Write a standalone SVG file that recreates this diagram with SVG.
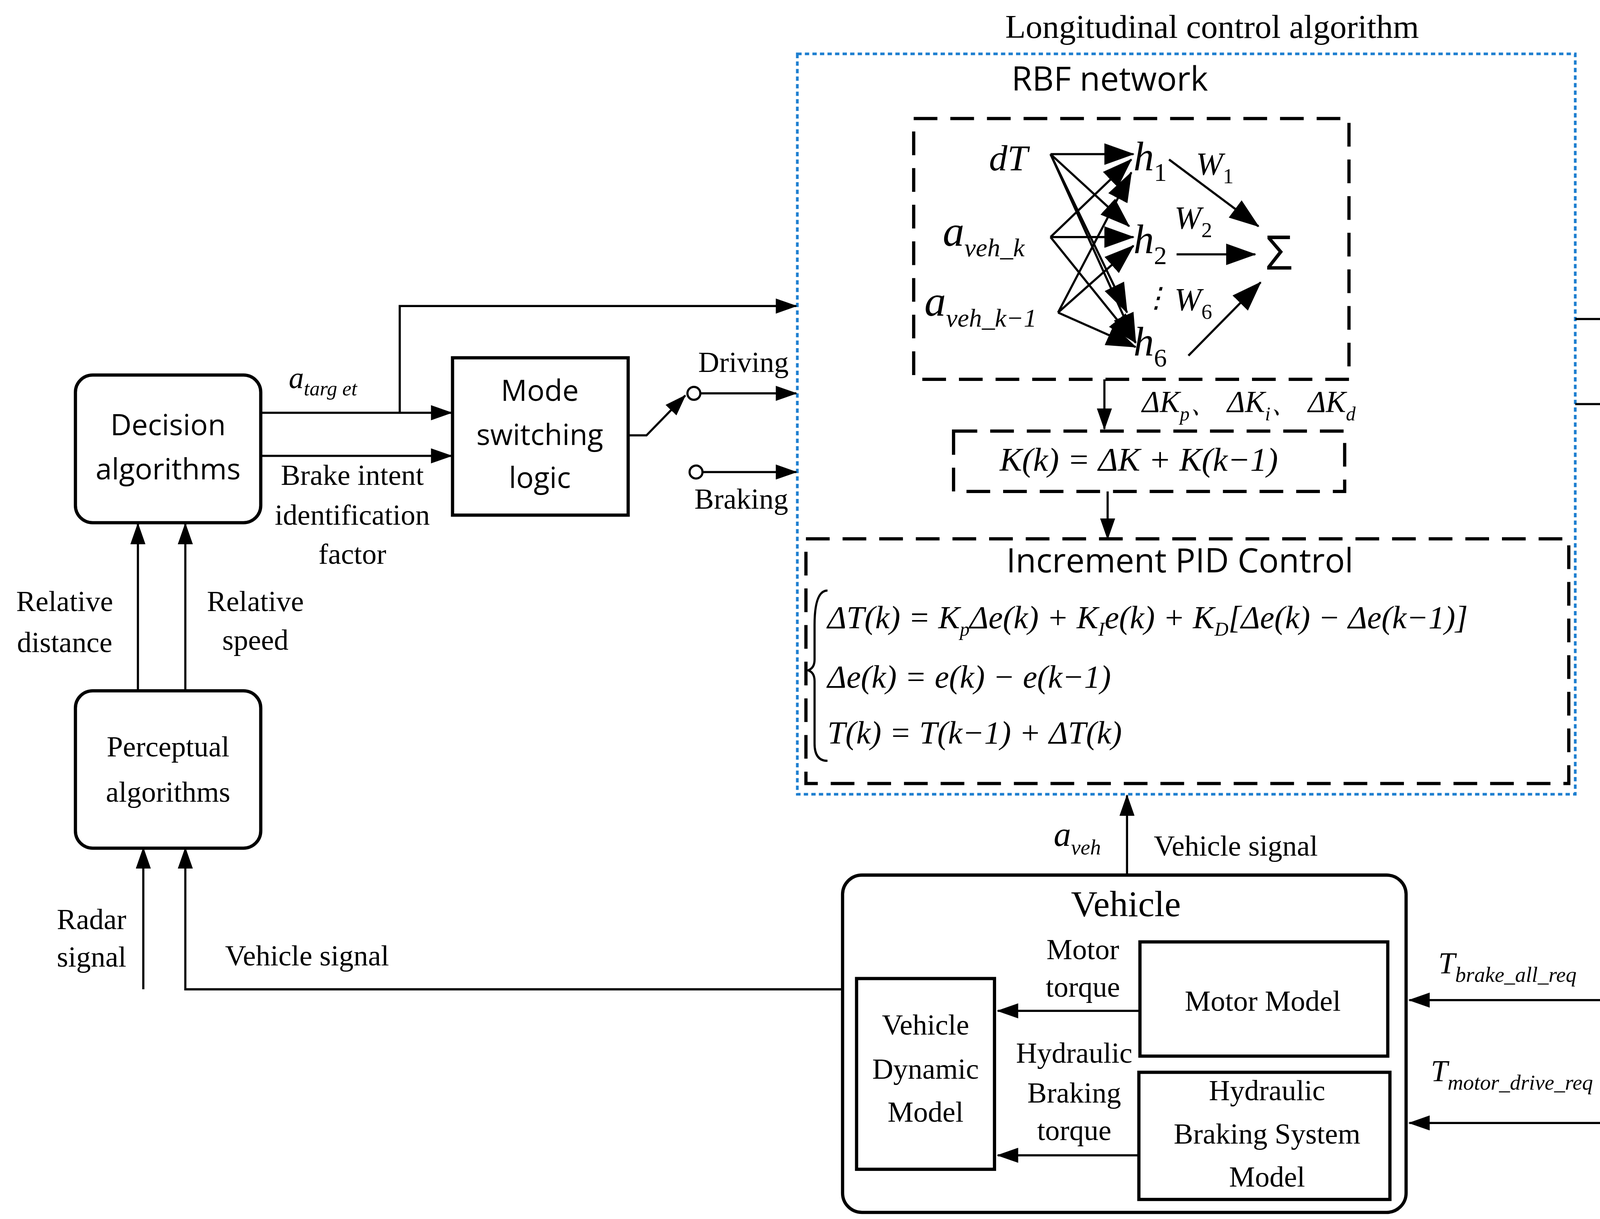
<svg xmlns="http://www.w3.org/2000/svg" width="4303" height="3120" viewBox="0 0 4303 3120">
<defs>
<marker id="ar" markerUnits="userSpaceOnUse" markerWidth="20" markerHeight="14" refX="19" refY="7" orient="auto"><path d="M0,0 L20,7 L0,14 Z" fill="#000"/></marker>
<marker id="ar2" markerUnits="userSpaceOnUse" markerWidth="28" markerHeight="20" refX="27" refY="10" orient="auto"><path d="M0,0 L28,10 L0,20 Z" fill="#000"/></marker>
<style>
.ln{stroke:#000;stroke-width:2;fill:none}
.bx{stroke:#000;stroke-width:3;fill:#fff}
.ds{stroke:#000;stroke-width:3;fill:none;stroke-dasharray:22 12}
.sa{font-family:"Open Sans","Liberation Sans",sans-serif;font-size:27px;text-anchor:middle}
.se{font-family:"Liberation Serif",serif;font-size:27px;text-anchor:middle}
.it{font-family:"Liberation Serif",serif;font-style:italic}
</style>
</defs>
<rect width="4303" height="3120" fill="#fff"/>
<g transform="scale(2.7583)">
<text class="se" x="1125" y="35" style="font-size:31px">Longitudinal control algorithm</text>
<rect x="740" y="50" width="722" height="687" fill="none" stroke="#1e7fd0" stroke-width="2.5" stroke-dasharray="4 3"/>
<g id="rbf">
<text class="sa" x="1030" y="84" style="font-size:31px">RBF network</text>
<rect x="848" y="110" width="404" height="242" class="ds"/>
<text class="it" x="918" y="158" font-size="34">dT</text>
<text class="it" x="875" y="228" font-size="40">a<tspan font-size="24" dy="10">veh_k</tspan></text>
<text class="it" x="858" y="293" font-size="40">a<tspan font-size="24" dy="10">veh_k−1</tspan></text>
<text class="it" x="1052" y="158" font-size="38">h<tspan font-size="24" dy="10" font-style="normal">1</tspan></text>
<text class="it" x="1052" y="235" font-size="38">h<tspan font-size="24" dy="10" font-style="normal">2</tspan></text>
<text class="it" x="1060" y="285" font-size="26">⋮</text>
<text class="it" x="1052" y="330" font-size="38">h<tspan font-size="24" dy="10" font-style="normal">6</tspan></text>
<text class="it" x="1110" y="162" font-size="30">W<tspan font-size="20" dy="8" font-style="normal">1</tspan></text>
<text class="it" x="1090" y="212" font-size="30">W<tspan font-size="20" dy="8" font-style="normal">2</tspan></text>
<text class="it" x="1090" y="288" font-size="30">W<tspan font-size="20" dy="8" font-style="normal">6</tspan></text>
<text class="sa" x="1187" y="250" style="font-size:44px">Σ</text>
<g class="ln">
<line x1="975" y1="143" x2="1052" y2="143" marker-end="url(#ar2)"/>
<line x1="975" y1="143" x2="1048" y2="210" marker-end="url(#ar2)"/>
<line x1="975" y1="143" x2="1046" y2="290" marker-end="url(#ar2)"/>
<line x1="975" y1="143" x2="1054" y2="318" marker-end="url(#ar2)"/>
<line x1="975" y1="220" x2="1050" y2="148" marker-end="url(#ar2)"/>
<line x1="975" y1="220" x2="1052" y2="220" marker-end="url(#ar2)"/>
<line x1="975" y1="220" x2="1054" y2="318" marker-end="url(#ar2)"/>
<line x1="982" y1="290" x2="1050" y2="160" marker-end="url(#ar2)"/>
<line x1="982" y1="290" x2="1052" y2="228" marker-end="url(#ar2)"/>
<line x1="982" y1="290" x2="1054" y2="322" marker-end="url(#ar2)"/>
<line x1="1085" y1="148" x2="1168" y2="210" marker-end="url(#ar2)"/>
<line x1="1092" y1="236" x2="1165" y2="236" marker-end="url(#ar2)"/>
<line x1="1103" y1="330" x2="1170" y2="262" marker-end="url(#ar2)"/>
</g>
</g>
<g id="kbox">
<rect x="885" y="400" width="363" height="56" class="ds"/>
<text class="it" x="1057" y="437" font-size="31" text-anchor="middle">K(k) = ΔK + K(k−1)</text>
</g>
<text class="it" x="1060" y="382" font-size="28">ΔK<tspan font-size="18" dy="8">p</tspan><tspan dy="-8">、 ΔK</tspan><tspan font-size="18" dy="8">i</tspan><tspan dy="-8">、 ΔK</tspan><tspan font-size="18" dy="8">d</tspan></text>
<g id="pid">
<rect x="748" y="500" width="708" height="227" class="ds"/>
<text class="sa" x="1095" y="531" style="font-size:31px">Increment PID Control</text>
<path d="M768,548 Q756,548 756,580 L756,612 Q756,620 750,622 Q756,624 756,632 L756,690 Q756,706 768,706" class="ln"/>
<text class="it" x="768" y="583" font-size="30">ΔT(k) = K<tspan font-size="18" dy="7">p</tspan><tspan dy="-7">Δe(k) + K</tspan><tspan font-size="18" dy="7">I</tspan><tspan dy="-7">e(k) + K</tspan><tspan font-size="18" dy="7">D</tspan><tspan dy="-7">[Δe(k) − Δe(k−1)]</tspan></text>
<text class="it" x="768" y="638" font-size="30">Δe(k) = e(k) − e(k−1)</text>
<text class="it" x="768" y="690" font-size="30">T(k) = T(k−1) + ΔT(k)</text>
</g>
<g id="decision"><rect x="70" y="348" width="172" height="137" rx="16" class="bx"/>
<text class="sa" x="156" y="404">Decision</text><text class="sa" x="156" y="445">algorithms</text></g>
<g id="perceptual"><rect x="70" y="641" width="172" height="146" rx="16" class="bx"/>
<text class="se" x="156" y="702">Perceptual</text><text class="se" x="156" y="744">algorithms</text></g>
<g id="mode"><rect x="420" y="332" width="163" height="146" class="bx"/>
<text class="sa" x="501" y="372">Mode</text><text class="sa" x="501" y="413">switching</text><text class="sa" x="501" y="453">logic</text></g>
<g id="vehicle"><rect x="782" y="812" width="523" height="313" rx="18" class="bx"/>
<text class="se" x="1045" y="850" style="font-size:34px">Vehicle</text></g>
<g id="motor"><rect x="1058" y="874" width="230" height="106" class="bx"/>
<text class="se" x="1172" y="938">Motor Model</text></g>
<g id="hydraulic"><rect x="1057" y="995" width="233" height="118" class="bx"/>
<text class="se" x="1176" y="1021">Hydraulic</text><text class="se" x="1176" y="1061">Braking System</text><text class="se" x="1176" y="1101">Model</text></g>
<g id="vdm"><rect x="795" y="908" width="128" height="177" class="bx"/>
<text class="se" x="859" y="960">Vehicle</text><text class="se" x="859" y="1001">Dynamic</text><text class="se" x="859" y="1041">Model</text></g>
<g id="connectors" class="ln">
<line x1="1025" y1="352" x2="1025" y2="398" marker-end="url(#ar)"/>
<line x1="1028" y1="456" x2="1028" y2="500" marker-end="url(#ar)"/>
<line x1="1058" y1="938" x2="926" y2="938" marker-end="url(#ar)"/>
<line x1="1057" y1="1072" x2="926" y2="1072" marker-end="url(#ar)"/>
<line x1="1046" y1="812" x2="1046" y2="738" marker-end="url(#ar)"/>
<polyline points="1462,296 1552,296 1552,1042 1308,1042" marker-end="url(#ar)"/>
<polyline points="1462,375 1492,375 1492,928 1308,928" marker-end="url(#ar)"/>
<polyline points="782,918 172,918 172,787" marker-end="url(#ar)"/>
<line x1="133" y1="918" x2="133" y2="787" marker-end="url(#ar)"/>
<line x1="128" y1="641" x2="128" y2="486" marker-end="url(#ar)"/>
<line x1="172" y1="641" x2="172" y2="486" marker-end="url(#ar)"/>
<line x1="242" y1="383" x2="419" y2="383" marker-end="url(#ar)"/>
<polyline points="371,383 371,284 739,284" marker-end="url(#ar)"/>
<line x1="242" y1="423" x2="419" y2="423" marker-end="url(#ar)"/>
<polyline points="583,404 600,404 636,367" marker-end="url(#ar)"/>
<circle cx="644" cy="365" r="6"/>
<line x1="650" y1="365" x2="739" y2="365" marker-end="url(#ar)"/>
<circle cx="646" cy="438" r="6"/>
<line x1="652" y1="438" x2="739" y2="438" marker-end="url(#ar)"/>
</g>
<g id="labels">
<text class="se" x="1005" y="890">Motor</text><text class="se" x="1005" y="925">torque</text>
<text class="se" x="997" y="986">Hydraulic</text><text class="se" x="997" y="1023">Braking</text><text class="se" x="997" y="1058">torque</text>
<text class="it" x="978" y="785" font-size="32">a<tspan font-size="20" dy="8">veh</tspan></text>
<text class="se" x="1147" y="794">Vehicle signal</text>
<text class="it" x="1335" y="903" font-size="28">T<tspan font-size="20" dy="8">brake_all_req</tspan></text>
<text class="it" x="1328" y="1003" font-size="28">T<tspan font-size="20" dy="8">motor_drive_req</tspan></text>
<text class="se" x="285" y="896">Vehicle signal</text>
<text class="se" x="85" y="862">Radar</text><text class="se" x="85" y="897">signal</text>
<text class="se" x="60" y="567">Relative</text><text class="se" x="60" y="605">distance</text>
<text class="se" x="237" y="567">Relative</text><text class="se" x="237" y="603">speed</text>
<text class="it" x="268" y="360" font-size="28">a<tspan font-size="19" dy="7">targ et</tspan></text>
<text class="se" x="327" y="450">Brake intent</text><text class="se" x="327" y="487">identification</text><text class="se" x="327" y="523">factor</text>
<text class="se" x="690" y="345">Driving</text>
<text class="se" x="688" y="472">Braking</text>
</g>
</g>
</svg>
